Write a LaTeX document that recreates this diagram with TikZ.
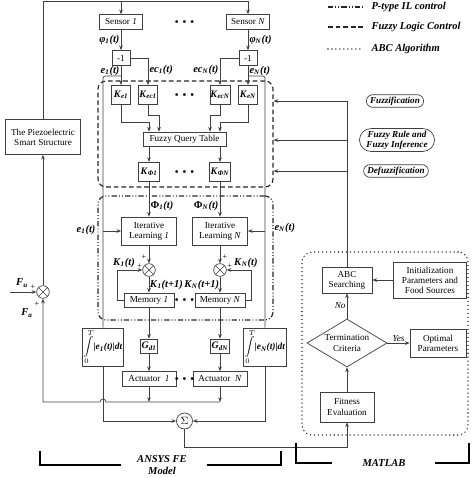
\documentclass[tikz,border=0pt]{standalone}
\usepackage{fontspec}
\setmainfont{Liberation Serif}
\usepackage{amsmath}
\usetikzlibrary{positioning,arrows.meta,shapes.geometric,shapes.misc,calc}

\newcommand{\bvar}[1]{\textbf{\textit{#1}}}
\newcommand{\sigt}[2]{\bvar{#1}\textsubscript{\bvar{#2}}\bvar{(t)}}
\newcommand{\gain}[2]{\bvar{#1}\textsubscript{\bvar{#2}}}

\begin{document}
\begin{tikzpicture}[
  x=0.3mm,y=-0.3mm,
  font=\fontsize{7.8}{8.6}\selectfont,
  line width=0.6pt,
  box/.style={rectangle,draw=black!75,fill=white,align=center,inner sep=1pt},
  kbox/.style={box,minimum width=5.8mm,minimum height=5.8mm,inner sep=0.3pt,
    font=\fontsize{8.5}{9}\selectfont},
  mult/.style={circle,draw=black!75,fill=white,minimum size=3.8mm,inner sep=0pt,
    path picture={\draw[black!75,line width=0.5pt]
      (path picture bounding box.north west)--(path picture bounding box.south east)
      (path picture bounding box.north east)--(path picture bounding box.south west);}},
  sumnode/.style={circle,draw=black!75,fill=white,minimum size=4.8mm,inner sep=0pt,
    font=\fontsize{9}{9}\selectfont},
  lbl/.style={inner sep=1pt,font=\fontsize{9}{10}\selectfont},
  pl/.style={inner sep=0.5pt,font=\fontsize{7}{7}\selectfont},
  dots/.style={inner sep=0pt,font=\fontsize{4.5}{5}\selectfont},
  oval/.style={rounded rectangle,draw=black!75,align=center,inner sep=1.8pt,
    font=\fontsize{7.8}{8.8}\selectfont\bfseries\itshape},
  tag/.style={align=center,inner sep=1pt,font=\fontsize{9}{10}\selectfont\bfseries\itshape},
  arr/.style={draw=black!75,-{Stealth[length=1.4mm,width=1.1mm]}},
  wire/.style={draw=black!75},
  flcreg/.style={draw=black!85,line width=1pt,dash pattern=on 4pt off 2.5pt,
    rounded corners=2.4mm,minimum width=52.5mm,minimum height=31.8mm},
  ilcreg/.style={draw=black!85,line width=1pt,
    dash pattern=on 4.5pt off 1.8pt on 0.8pt off 1.8pt on 0.8pt off 1.8pt,
    rounded corners=2.4mm,minimum width=52.5mm,minimum height=37.2mm},
  abcreg/.style={draw=black!85,line width=1.3pt,dash pattern=on 0pt off 3.4pt,line cap=round,
    rounded corners=3mm,minimum width=49.8mm,minimum height=54.9mm},
  brk/.style={draw=black,line width=1.6pt},
]
\useasboundingbox (0,0) rectangle (474,478);

% regions
\node[flcreg] (flc) at (185.5,134) {};
\node[ilcreg] (ilc) at (185.5,258) {};
\node[abcreg] (abcbox) at (385,343.5) {};

% legend
\node[tag,anchor=west] (lgP) at (370,7) {P-type IL control};
\node[tag,anchor=west] (lgF) at (370,27) {Fuzzy Logic Control};
\node[tag,anchor=west] (lgA) at (370,49) {ABC Algorithm};
\draw[ilcreg] ($(lgP.west)+(-42,0)$) -- ($(lgP.west)+(-7,0)$);
\draw[flcreg] ($(lgF.west)+(-42,0)$) -- ($(lgF.west)+(-7,0)$);
\draw[abcreg] ($(lgA.west)+(-42,0)$) -- ($(lgA.west)+(-7,0)$);

% plant and sensors
\node[box,minimum width=22.5mm,minimum height=10.5mm] (piezo) at (43,137) {The Piezoelectric\\Smart Structure};
\node[box,minimum width=12.9mm,minimum height=4.5mm] (sen1) at (121,22) {Sensor \textit{1}};
\node[box,minimum width=12.9mm,minimum height=4.5mm] (senN) at (248,22) {Sensor \textit{N}};
\node[dots] (dS) at (184.5,22) {$\bullet\,\bullet\,\bullet$};
\node[box,minimum width=5.4mm,minimum height=4.5mm] (inv1) at (121,58) {-1};
\node[box,minimum width=5.4mm,minimum height=4.5mm] (invN) at (248,58) {-1};

% fuzzy logic control
\node[kbox] (Ke1) at (121,95) {\gain{K}{e1}};
\node[kbox] (Kec1) at (148,95) {\gain{K}{ec1}};
\node[dots] (dK) at (184.5,95) {$\bullet\,\bullet\,\bullet$};
\node[kbox] (KecN) at (220,95) {\gain{K}{ecN}};
\node[kbox] (KeN) at (248,95) {\gain{K}{eN}};
\node[box,minimum width=24.9mm,minimum height=4.2mm] (fqt) at (184.5,139) {Fuzzy Query Table};
\node[kbox,minimum width=6.4mm] (KP1) at (149,172) {\gain{K}{Φ1}};
\node[dots] (dP) at (184.5,172) {$\bullet\,\bullet\,\bullet$};
\node[kbox,minimum width=6.4mm] (KPN) at (220,172) {\gain{K}{ΦN}};

% P-type IL control
\node[box,minimum width=16.5mm,minimum height=8.4mm] (il1) at (149,231) {Iterative\\Learning \textit{1}};
\node[box,minimum width=16.5mm,minimum height=8.4mm] (ilN) at (220,231) {Iterative\\Learning \textit{N}};
\node[mult] (x1) at (149,270) {};
\node[mult] (xN) at (220,270) {};
\node[box,minimum width=15mm,minimum height=4.2mm] (mem1) at (149,300) {Memory \textit{1}};
\node[box,minimum width=15mm,minimum height=4.2mm] (memN) at (220,300) {Memory \textit{N}};
\node[dots] (dM) at (184.5,300) {$\bullet\,\bullet\,\bullet$};

% actuators
\node[box,minimum width=5.1mm,minimum height=4.2mm,font=\fontsize{8.5}{9}\selectfont] (Gd1) at (149,346) {\gain{G}{d1}};
\node[box,minimum width=5.1mm,minimum height=4.2mm,font=\fontsize{8.5}{9}\selectfont] (GdN) at (220,346) {\gain{G}{dN}};
\node[box,minimum width=16.2mm,minimum height=4.5mm] (act1) at (149,379) {Actuator \ \textit{1}};
\node[box,minimum width=16.2mm,minimum height=4.5mm] (actN) at (220,379) {Actuator \ \textit{N}};
\node[dots] (dA) at (184.5,379) {$\bullet\,\bullet\,\bullet$};
\node[box,minimum width=12mm,minimum height=10.5mm,font=\fontsize{8}{9}\selectfont] (int1) at (103,347)
  {$\displaystyle\int\limits_0^T$\bvar{|e\textsubscript{1}(t)|dt}};
\node[box,minimum width=12mm,minimum height=10.5mm,font=\fontsize{8}{9}\selectfont] (intN) at (265,347)
  {$\displaystyle\int\limits_0^T$\bvar{|e\textsubscript{N}(t)|dt}};
\node[sumnode] (sig) at (184.5,421) {$\Sigma$};
\node[mult] (xin) at (43,292) {};

% ABC algorithm
\node[box,minimum width=15mm,minimum height=7.8mm] (abc) at (347,280) {ABC\\Searching};
\node[box,minimum width=21.9mm,minimum height=10.8mm] (init) at (430,280) {Initialization\\Parameters and\\Food Sources};
\node[box,diamond,aspect=1.67,minimum width=24mm,minimum height=14.4mm,inner sep=0pt] (term) at (347,343) {Termination\\Criteria};
\node[box,minimum width=16.8mm,minimum height=8.4mm] (opt) at (438,343) {Optimal\\Parameters};
\node[box,minimum width=16.2mm,minimum height=9mm] (fit) at (347,407) {Fitness\\Evaluation};
\node[oval] (fuzz) at (395,101) {Fuzzification};
\node[oval] (frule) at (397,140) {Fuzzy Rule and\\Fuzzy Inference};
\node[oval] (defuzz) at (396,171) {Defuzzification};

% feedback loop from structure to sensors
\coordinate (ttop) at (0,1.5);
\draw[arr] (piezo.north) -- (piezo.north |- ttop) -| (senN.north);
\draw[arr] (sen1.north |- ttop) -- (sen1.north);
\draw[arr] (sen1) -- node[lbl,left] (lphi1) {\sigt{φ}{1}} (inv1);
\draw[arr] (senN) -- node[lbl,right] (lphiN) {\sigt{φ}{N}} (invN);

% errors
\draw[arr] (inv1) -- node[lbl,left,pos=0.25] (le1a) {\sigt{e}{1}} (Ke1);
\draw[arr] (invN) -- node[lbl,right,pos=0.25] (leNa) {\sigt{e}{N}} (KeN);
\draw[arr] (inv1.east) -| node[lbl,right,pos=0.72] (lec1) {\sigt{ec}{1}} (Kec1.north);
\draw[arr] (invN.west) -| node[lbl,left,pos=0.72] (lecN) {\sigt{ec}{N}} (KecN.north);
\coordinate (e1c) at (103,76);
\coordinate (eNc) at (265,76);
\draw[wire,rounded corners=2pt] (inv1 |- e1c) -- (e1c) -- (int1.north);
\draw[wire,rounded corners=2pt] (invN |- eNc) -- (eNc) -- (intN.north);
\draw[arr] (e1c |- il1) -- (il1.west);
\draw[arr] (eNc |- ilN) -- (ilN.east);
\node[lbl,anchor=east] (le1) at ($(e1c |- il1)+(-6,-1)$) {\sigt{e}{1}};
\node[lbl,anchor=west] (leN) at ($(eNc |- ilN)+(8,-3)$) {\sigt{e}{N}};

% fuzzy gains
\draw[arr] (Ke1.south) -- ++(0,17) -| (KP1 |- fqt.north);
\draw[arr] (Kec1.south) -- ++(0,10) -| ($(KP1 |- fqt.north)+(10,0)$);
\draw[arr] (KeN.south) -- ++(0,17) -| (KPN |- fqt.north);
\draw[arr] (KecN.south) -- ++(0,10) -| ($(KPN |- fqt.north)+(-10,0)$);
\draw[arr] (KP1 |- fqt.south) -- (KP1.north);
\draw[arr] (KPN |- fqt.south) -- (KPN.north);
\draw[arr] (KP1) -- node[lbl,right,pos=0.7] (lPhi1) {\textbf{Φ}\textsubscript{\bvar{1}}\bvar{(t)}} (il1);
\draw[arr] (KPN) -- node[lbl,left,pos=0.7] (lPhiN) {\textbf{Φ}\textsubscript{\bvar{N}}\bvar{(t)}} (ilN);

% learning update
\draw[arr] (il1) -- (x1);
\draw[arr] (ilN) -- (xN);
\node[pl] (p1a) at ($(x1.north)+(-5,-6)$) {+};
\node[pl] (pNa) at ($(xN.north)+(5,-6)$) {+};
\draw[arr] (mem1.west) -- ++(-6,0) |- (x1.west);
\draw[arr] (memN.east) -- ++(6,0) |- (xN.east);
\node[pl] (p1b) at ($(x1.west)+(-3,-4)$) {+};
\node[pl] (pNb) at ($(xN.east)+(3,-4)$) {+};
\node[lbl,anchor=south east] (lK1) at ($(x1.west)+(-6,-1)$) {\sigt{K}{1}};
\node[lbl,anchor=south west] (lKN) at ($(xN.east)+(6,-1)$) {\sigt{K}{N}};
\draw[arr] (x1) -- node[lbl,right,inner sep=0.5pt] (lK1n) {\gain{K}{1}\bvar{(t+1)}} (mem1);
\draw[arr] (xN) -- node[lbl,left,inner sep=0.5pt] (lKNn) {\gain{K}{N}\bvar{(t+1)}} (memN);
\draw[arr] (mem1) -- (Gd1);
\draw[arr] (memN) -- (GdN);
\draw[arr] (Gd1) -- (act1);
\draw[arr] (GdN) -- (actN);

% actuator forces back to the structure
\coordinate (bus) at (0,402);
\draw[arr] (act1.south) -- (act1.south |- bus);
\draw[arr] (actN.south) -- (actN.south |- bus);
\draw[arr] (actN.south |- bus) -- ($(int1.south |- bus)+(3,0)$)
  arc[start angle=0,end angle=180,radius=0.9mm] -- (xin |- bus) -- (xin.south);
\draw[arr] (xin) -- (piezo);
\coordinate (fuin) at (10,292);
\draw[arr] (fuin) -- (xin.west);
\node[lbl] (lFu) at (22,283) {\gain{F}{u}};
\node[pl] (pu) at (33,287) {+};
\node[lbl] (lFa) at (27,313) {\gain{F}{a}};
\node[pl] (pa) at (37,304) {+};

% fitness
\draw[arr] (int1.south) |- (sig.west);
\draw[arr] (intN.south) |- (sig.east);
\coordinate (lowbus) at (0,447);
\draw[arr] (sig.south) -- (sig.south |- lowbus) -| (fit.south);
\draw[arr] (fit) -- (term);
\draw[arr] (term) -- node[lbl,left,font=\fontsize{7.8}{8.6}\selectfont] (lNo) {\textit{No}} (abc);
\draw[arr] (term) -- node[lbl,above,font=\fontsize{7.8}{8.6}\selectfont] (lYes) {\textit{Yes}} (opt);
\draw[arr] (init) -- (abc);
\draw[arr] (abc.north) |- (flc.east |- fuzz);
\draw[arr] (abc.north |- frule) -- (flc.east |- frule);
\draw[arr] (abc.north |- defuzz) -- (flc.east |- defuzz);

% software brackets
\draw[brk] (40,451) -- (40,465) -- (121,465);
\draw[brk] (207,465) -- (281,465) -- (281,451);
\node[tag] (ansys) at (162,465) {ANSYS FE\\Model};
\draw[brk] (296,443) -- (296,463) -- (332,463);
\draw[brk] (435,463) -- (469,463) -- (469,443);
\node[tag] (matlab) at (384,463) {MATLAB};
\end{tikzpicture}
\end{document}
